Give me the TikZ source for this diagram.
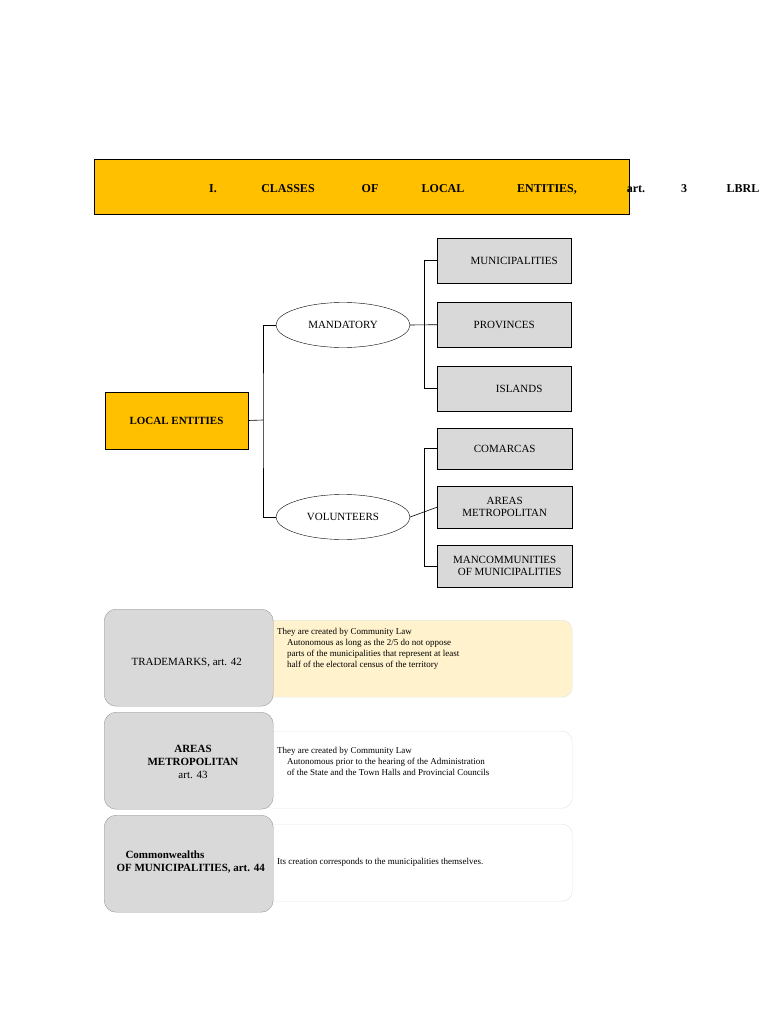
\documentclass[tikz,border=0pt]{standalone}
\usepackage{fontspec}
\setmainfont{Liberation Serif}
\usetikzlibrary{shapes.geometric}
\definecolor{org}{HTML}{FFC000}
\definecolor{gr}{HTML}{D9D9D9}
\definecolor{ly}{HTML}{FFF2CC}
\definecolor{lb}{HTML}{DDE3EE}
\tikzset{
 box/.style={draw,fill=gr,minimum width=134pt,minimum height=45pt,font=\fontsize{11}{12}\selectfont,align=center},
 ell/.style={draw,ellipse,minimum width=134pt,minimum height=45pt,font=\fontsize{11}{12}\selectfont},
 ln/.style={draw,line width=0.6pt},
 lbox/.style={draw=gray!80,fill=gr,rounded corners=12pt,minimum width=169pt,minimum height=97pt},
 rbox/.style={draw=lb,rounded corners=10pt,minimum width=310pt,minimum height=77pt},
 tt/.style={font=\bfseries\fontsize{12}{14}\selectfont,anchor=base},
 sm/.style={font=\fontsize{9}{11}\selectfont,align=left,anchor=north west}
}
\begin{document}
\begin{tikzpicture}[x=1pt,y=-1pt]
\useasboundingbox (0,0) rectangle (768,1024);
\node[draw,fill=org,minimum width=535pt,minimum height=55pt,anchor=north west] (title) at (94,159) {};
\foreach \n/\x/\w in {t1/213/I., t2/288/CLASSES, t3/370/OF, t4/443/LOCAL, t5/547/ENTITIES{,}, t6/636/art., t7/684/3, t8/743/LBRL}
  \node[tt] (\n) at (\x,193) {\w};
\node[draw,fill=org,minimum width=143pt,minimum height=57pt,font=\bfseries\fontsize{11}{12}\selectfont] (le) at (176.5,420.5) {LOCAL ENTITIES};
\node[ell] (man) at (343,325) {MANDATORY};
\node[ell] (vol) at (343,517) {VOLUNTEERS};
\node[box,anchor=north west] (mun) at (437,238) {\hspace*{20pt}MUNICIPALITIES};
\node[box,anchor=north west] (pro) at (437,302) {PROVINCES};
\node[box,anchor=north west] (isl) at (437,366) {\hspace*{30pt}ISLANDS};
\node[box,anchor=north west,minimum width=135pt,minimum height=41pt] (com) at (437,428) {COMARCAS};
\node[box,anchor=north west,minimum width=135pt,minimum height=42pt] (are) at (437,486) {AREAS\\METROPOLITAN};
\node[box,anchor=north west,minimum width=135pt,minimum height=42pt,inner sep=1pt] (mcm) at (437,545) {MANCOMMUNITIES\\\hspace*{10pt}OF MUNICIPALITIES};
\coordinate (j1) at (263,420);
\draw[ln] (le.east) -- (j1);
\draw[ln] (man.west) -| (j1) |- (vol.west);
\draw[ln] (man.east) -- (pro.west);
\draw[ln] (mun.west) -- ++(-13,0) |- (isl.west);
\draw[ln] (vol.east) -- (are.west);
\draw[ln] (com.west) -- ++(-13,0) |- (mcm.west);
% bottom
\node[rbox,fill=ly,anchor=north west] (r1) at (262,620) {};
\node[rbox,fill=white,anchor=north west] (r2) at (262,731) {};
\node[rbox,fill=white,anchor=north west] (r3) at (262,824) {};
\node[lbox,anchor=north west] (l1) at (104,609) {};
\node[lbox,anchor=north west] (l2) at (104,712) {};
\node[lbox,anchor=north west] (l3) at (104,815) {};
\node[font=\fontsize{11}{12}\selectfont,anchor=base west] (l1t) at (128,665) {TRADEMARKS, art. 42};
\node[font=\fontsize{11}{13}\selectfont,align=center] (l2t) at (193,762) {\textbf{AREAS}\\\textbf{METROPOLITAN}\\art. 43};
\node[font=\bfseries\fontsize{11}{13}\selectfont,align=left,anchor=west] (l3t) at (113,862) {\hspace*{9pt}Commonwealths\\OF MUNICIPALITIES, art. 44};
\node[sm,inner sep=0pt] (r1t) at (277,628) {They are created by Community Law\\\hspace*{10pt}Autonomous as long as the 2/5 do not oppose\\\hspace*{10pt}parts of the municipalities that represent at least\\\hspace*{10pt}half of the electoral census of the territory};
\node[sm,inner sep=0pt] (r2t) at (277,747) {They are created by Community Law\\\hspace*{10pt}Autonomous prior to the hearing of the Administration\\\hspace*{10pt}of the State and the Town Halls and Provincial Councils};
\node[sm,inner sep=0pt,anchor=west] (r3t) at (277,862) {Its creation corresponds to the municipalities themselves.};
\end{tikzpicture}
\end{document}
